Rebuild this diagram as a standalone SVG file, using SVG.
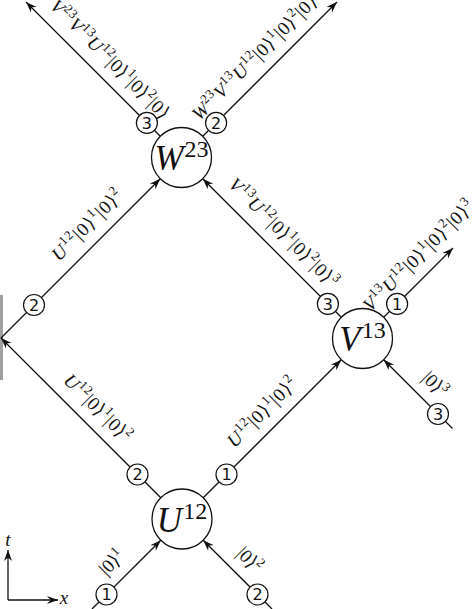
<svg xmlns="http://www.w3.org/2000/svg" width="474" height="609" viewBox="0 0 474 609">
<style>
.ln{fill:none;stroke:#111;stroke-width:1.3}
.big{fill:#fff;stroke:#111;stroke-width:1.3}
.port{fill:#fff;stroke:#111;stroke-width:1.2}
.pn{font-family:"DejaVu Sans","Liberation Sans",sans-serif;font-size:16px;fill:#111;text-anchor:middle}
.nl{font-family:"Liberation Serif","DejaVu Serif",serif;fill:#111;text-anchor:middle}
.el{font-family:"Liberation Serif","DejaVu Serif",serif;font-size:19px;fill:#111}
.i{font-style:italic}
.s{font-size:13px}
</style>
<defs>
<marker id="arr" markerUnits="userSpaceOnUse" markerWidth="14" markerHeight="10" viewBox="-11 -5 12 10" refX="0" refY="0" orient="auto">
<path d="M0,0 L-11,-4 L-7.5,0 L-11,4 Z" fill="#111"/>
</marker>
</defs>
<rect x="0" y="295" width="3" height="85" fill="#a0a0a0"/>
<g id="connectors">
<path class="ln" d="M92,609 L160.8,540.2" marker-end="url(#arr)"/>
<path class="ln" d="M272,609 L203.2,540.2" marker-end="url(#arr)"/>
<path class="ln" d="M203.2,497.8 L341.3,359.7" marker-end="url(#arr)"/>
<path class="ln" d="M160.8,497.8 L1,338" marker-end="url(#arr)"/>
<path class="ln" d="M1,338 L160.3,178.7" marker-end="url(#arr)"/>
<path class="ln" d="M452.5,428.5 L383.7,359.7" marker-end="url(#arr)"/>
<path class="ln" d="M341.3,317.3 L202.7,178.7" marker-end="url(#arr)"/>
<path class="ln" d="M383.7,317.3 L453,248" marker-end="url(#arr)"/>
<path class="ln" d="M160.3,136.3 L26,2" marker-end="url(#arr)"/>
<path class="ln" d="M202.7,136.3 L337,2" marker-end="url(#arr)"/>
</g>
<g id="axes">
<path class="ln" d="M8,600 L8,550" marker-end="url(#arr)"/>
<path class="ln" d="M8,600 L58,600" marker-end="url(#arr)"/>
<text class="el i" x="8" y="546" text-anchor="middle" font-size="17">t</text>
<text class="el i" x="64" y="604" text-anchor="middle" font-size="17">x</text>
</g>
<g id="node-W23">
<circle class="big" cx="181.5" cy="157.5" r="30"/>
<text class="nl" x="181.5" y="170"><tspan class="i" font-size="35">W</tspan><tspan font-size="24" dy="-13" dx="1">23</tspan></text>
</g>
<g id="node-V13">
<circle class="big" cx="362.5" cy="338.5" r="30"/>
<text class="nl" x="362.5" y="351"><tspan class="i" font-size="35">V</tspan><tspan font-size="24" dy="-13" dx="1">13</tspan></text>
</g>
<g id="node-U12">
<circle class="big" cx="182" cy="519" r="30"/>
<text class="nl" x="182" y="532"><tspan class="i" font-size="35">U</tspan><tspan font-size="24" dy="-13" dx="1">12</tspan></text>
</g>
<g id="port-W23-3"><circle class="port" cx="146.9" cy="122.9" r="10.5"/><text class="pn" x="146.9" y="128.6">3</text></g>
<g id="port-W23-2"><circle class="port" cx="216.1" cy="122.9" r="10.5"/><text class="pn" x="216.1" y="128.6">2</text></g>
<g id="port-V13-3"><circle class="port" cx="327.9" cy="303.9" r="10.5"/><text class="pn" x="327.9" y="309.6">3</text></g>
<g id="port-V13-1"><circle class="port" cx="397.1" cy="303.9" r="10.5"/><text class="pn" x="397.1" y="309.6">1</text></g>
<g id="port-U12-2"><circle class="port" cx="137.5" cy="474.5" r="10.5"/><text class="pn" x="137.5" y="480.2">2</text></g>
<g id="port-U12-1"><circle class="port" cx="226.5" cy="474.5" r="10.5"/><text class="pn" x="226.5" y="480.2">1</text></g>
<g id="port-in-1"><circle class="port" cx="106.5" cy="594.5" r="10.5"/><text class="pn" x="106.5" y="600.2">1</text></g>
<g id="port-in-2"><circle class="port" cx="257.5" cy="594.5" r="10.5"/><text class="pn" x="257.5" y="600.2">2</text></g>
<g id="port-in-3"><circle class="port" cx="438" cy="414" r="10.5"/><text class="pn" x="438" y="419.7">3</text></g>
<g id="port-left-2"><circle class="port" cx="34" cy="305" r="10.5"/><text class="pn" x="34" y="310.7">2</text></g>
<g id="edge-labels">
<text class="el" transform="translate(49,7) rotate(45)" textLength="160"><tspan class="i">V</tspan><tspan class="s" dy="-8">23</tspan><tspan class="i" dy="8">V</tspan><tspan class="s" dy="-8">13</tspan><tspan class="i" dy="8">U</tspan><tspan class="s" dy="-8">12</tspan><tspan dy="8">|0⟩</tspan><tspan class="s" dy="-8">1</tspan><tspan dy="8">|0⟩</tspan><tspan class="s" dy="-8">2</tspan><tspan dy="8">|0⟩</tspan></text>
<text class="el" transform="translate(199.5,121.5) rotate(-45)" textLength="175"><tspan class="i">W</tspan><tspan class="s" dy="-8">23</tspan><tspan class="i" dy="8">V</tspan><tspan class="s" dy="-8">13</tspan><tspan class="i" dy="8">U</tspan><tspan class="s" dy="-8">12</tspan><tspan dy="8">|0⟩</tspan><tspan class="s" dy="-8">1</tspan><tspan dy="8">|0⟩</tspan><tspan class="s" dy="-8">2</tspan><tspan dy="8">|0⟩</tspan><tspan class="s" dy="-8">3</tspan></text>
<text class="el" transform="translate(59,262) rotate(-45)" textLength="92"><tspan class="i">U</tspan><tspan class="s" dy="-8">12</tspan><tspan dy="8">|0⟩</tspan><tspan class="s" dy="-8">1</tspan><tspan dy="8">|0⟩</tspan><tspan class="s" dy="-8">2</tspan></text>
<text class="el" transform="translate(227.5,185.5) rotate(45)" textLength="146"><tspan class="i">V</tspan><tspan class="s" dy="-8">13</tspan><tspan class="i" dy="8">U</tspan><tspan class="s" dy="-8">12</tspan><tspan dy="8">|0⟩</tspan><tspan class="s" dy="-8">1</tspan><tspan dy="8">|0⟩</tspan><tspan class="s" dy="-8">2</tspan><tspan dy="8">|0⟩</tspan><tspan class="s" dy="-8">3</tspan></text>
<text class="el" transform="translate(370.5,312.5) rotate(-45)" textLength="148"><tspan class="i">V</tspan><tspan class="s" dy="-8">13</tspan><tspan class="i" dy="8">U</tspan><tspan class="s" dy="-8">12</tspan><tspan dy="8">|0⟩</tspan><tspan class="s" dy="-8">1</tspan><tspan dy="8">|0⟩</tspan><tspan class="s" dy="-8">2</tspan><tspan dy="8">|0⟩</tspan><tspan class="s" dy="-8">3</tspan></text>
<text class="el" transform="translate(421,379) rotate(45)"><tspan>|0⟩</tspan><tspan class="s" dy="-8">3</tspan></text>
<text class="el" transform="translate(62.5,381.5) rotate(45)" textLength="87"><tspan class="i">U</tspan><tspan class="s" dy="-8">12</tspan><tspan dy="8">|0⟩</tspan><tspan class="s" dy="-8">1</tspan><tspan dy="8">|0⟩</tspan><tspan class="s" dy="-8">2</tspan></text>
<text class="el" transform="translate(234.5,448.5) rotate(-45)" textLength="90"><tspan class="i">U</tspan><tspan class="s" dy="-8">12</tspan><tspan dy="8">|0⟩</tspan><tspan class="s" dy="-8">1</tspan><tspan dy="8">|0⟩</tspan><tspan class="s" dy="-8">2</tspan></text>
<text class="el" transform="translate(106.5,576.5) rotate(-45)"><tspan>|0⟩</tspan><tspan class="s" dy="-8">1</tspan></text>
<text class="el" transform="translate(235.5,554.5) rotate(45)"><tspan>|0⟩</tspan><tspan class="s" dy="-8">2</tspan></text>
</g>
</svg>
